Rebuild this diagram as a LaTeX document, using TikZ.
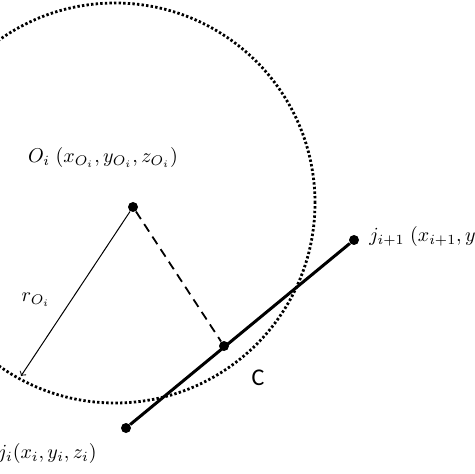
\documentclass[tikz,border=0pt]{standalone}
\usepackage{fontspec}
\newfontfamily\labelfont{Carlito}
\usetikzlibrary{positioning}
\tikzset{
  dot/.style={circle,fill=black,inner sep=0pt,minimum size=5pt},
  lbl/.style={font=\normalsize,inner sep=1pt},
}
\begin{document}
\begin{tikzpicture}[x=0.5pt,y=-0.5pt]
    \useasboundingbox (0,0) rectangle (474,474);
    \clip (0,0) rectangle (474,474);

    \coordinate (ctr) at (115,203);
    \draw[line width=1.4pt, dash pattern=on 1.2pt off 1.1pt] (ctr) circle[radius=100pt];

    \node[dot] (oi) at (133,207){};
    \node[dot] (ji) at (126,428){};
    \node[dot] (jn) at (354,240){};
    \node[dot] (c) at (224,346){};
    \coordinate (redge) at (21,376);

    \node[lbl] at (103,158)(oilabel){$O_i\;(x_{O_i}, y_{O_i}, z_{O_i})$};
    \node[lbl, anchor=west] at (367,237)(jnlabel){$j_{i+1}\;(x_{i+1}, y_{i+1}, z_{i+1})$};
    \node[lbl, anchor=east] at (99,453)(jilabel){$j_i(x_i, y_i, z_i)$};
    \node[lbl] at (36,300)(rlabel){$r_{O_i}$};
    \node[font=\labelfont\large] at (258,378)(clabel){C};

    \draw[line width=1.5pt](ji) -- (jn);
    \draw[line width=0.9pt, dash pattern=on 4.5pt off 3pt](oi) -- (c);
    \draw[->, line width=0.5pt](oi) -- (redge);
\end{tikzpicture}
\end{document}
